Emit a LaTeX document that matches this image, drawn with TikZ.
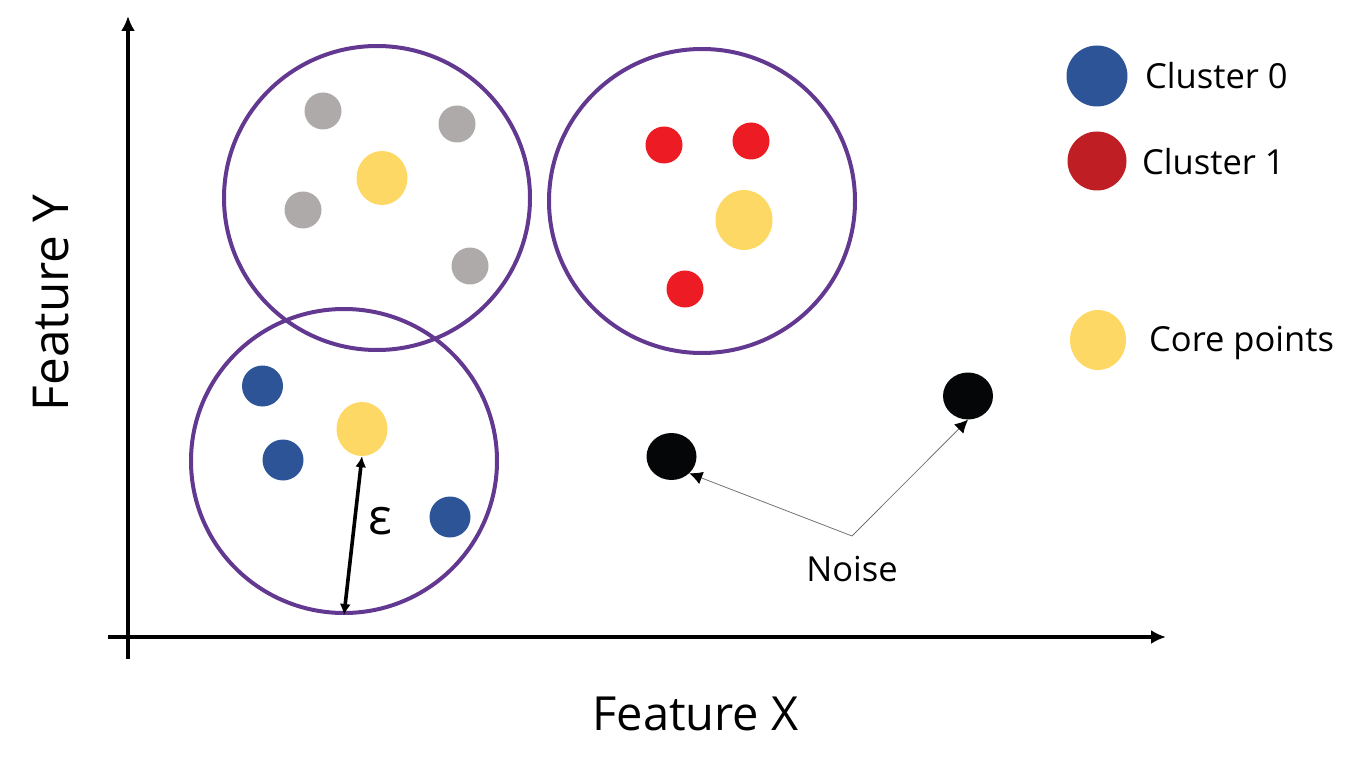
\documentclass[tikz,border=0pt]{standalone}
\usepackage{fontspec}
\setmainfont{Open Sans}
\usepackage{tikz}
\usetikzlibrary{positioning, calc}
\usetikzlibrary{arrows.meta}
\usetikzlibrary{shapes.geometric}
\definecolor{ringpurple}{RGB}{98,56,144}
\definecolor{coreyellow}{RGB}{253,216,100}
\definecolor{greydot}{RGB}{174,170,170}
\definecolor{bluedot}{RGB}{44,84,150}
\definecolor{reddot}{RGB}{237,28,36}
\definecolor{darkred}{RGB}{190,30,36}
\definecolor{blackdot}{RGB}{4,6,8}
\tikzstyle{ringbox}=[ellipse,line width=4pt,draw=ringpurple,inner sep=0pt,minimum width=306pt,minimum height=304pt]
\tikzstyle{dotbox}=[ellipse,inner sep=0pt,draw=none]
\tikzstyle{coredot}=[dotbox,fill=coreyellow,minimum width=51pt,minimum height=54pt]
\tikzstyle{greybox}=[dotbox,fill=greydot,minimum size=37pt]
\tikzstyle{redbox}=[dotbox,fill=reddot,minimum size=37pt]
\tikzstyle{bluebox}=[dotbox,fill=bluedot,minimum size=41pt]
\tikzstyle{noisebox}=[dotbox,fill=blackdot,minimum width=50pt,minimum height=47pt]
\tikzstyle{axisline}=[-{Latex[length=15pt,width=14pt]},line width=3.6pt]
\tikzstyle{thinarrow}=[-{Latex[length=13pt,width=13pt,color=black]},draw=black!55,line width=0.8pt]
\tikzstyle{radiusline}=[{Latex[length=11pt,width=11pt]}-{Latex[length=11pt,width=11pt]},line width=3.6pt]
\tikzstyle{legendtext}=[anchor=west,inner sep=0pt,font=\fontsize{34.5}{40}\selectfont]
\tikzstyle{axistext}=[inner sep=0pt,font=\fontsize{47}{56}\selectfont]
\begin{document}
\begin{tikzpicture}[x=1pt,y=-1pt]
    \useasboundingbox (0,0) rectangle (1358,778);
    % rings
    \node[ringbox] (r1) at (377,198) {};
    \node[ringbox] (r2) at (702,201) {};
    \node[ringbox] (r3) at (344,461) {};

    % axes
    \coordinate (ytop) at (128,16);
    \coordinate (ybot) at (128,659);
    \coordinate (xleft) at (108,637);
    \coordinate (xright) at (1166,637);
    \draw[axisline] (ybot) -- (ytop);
    \draw[axisline] (xleft) -- (xright);
    \node[axistext] (xlabel) at (695.5,714) {Feature X};
    \node[axistext,rotate=90,font=\fontsize{49.5}{56}\selectfont] (ylabel) at (51,303) {Feature Y};

    % points
    \node[greybox] (g1) at (323,111) {};
    \node[greybox] (g2) at (457,124) {};
    \node[greybox] (g3) at (303,210) {};
    \node[greybox] (g4) at (470,266) {};
    \node[coredot] (c1) at (382,178) {};

    \node[redbox] (a1) at (664,145) {};
    \node[redbox] (a2) at (751,141) {};
    \node[redbox] (a3) at (685,289) {};
    \node[coredot,minimum width=57pt,minimum height=60pt] (c2) at (744,220) {};

    \node[bluebox] (b1) at (262.5,386) {};
    \node[bluebox] (b2) at (283,460) {};
    \node[bluebox] (b3) at (450,517) {};
    \node[coredot] (c3) at (362,429) {};

    \node[noisebox] (n1) at (671.5,456.5) {};
    \node[noisebox] (n2) at (968,396) {};

    % radius
    \draw[radiusline] (r3.south) -- (c3.south);
    \node[inner sep=0pt,font=\fontsize{50}{56}\selectfont] (eps) at (380,521) {ε};

    % noise
    \node[inner sep=0pt,font=\fontsize{34.5}{40}\selectfont] (noise) at (852,569) {Noise};
    \coordinate (nfork) at (852,536);
    \draw[thinarrow] (nfork) -- (n1.south east);
    \draw[thinarrow] (nfork) -- (n2.south);

    % legend
    \node[dotbox,fill=bluedot,minimum size=61pt] (l0) at (1097,76) {};
    \node[dotbox,fill=darkred,minimum size=59pt] (l1) at (1097,161) {};
    \node[coredot,minimum width=56pt,minimum height=60pt] (l2) at (1098,340) {};
    \node[legendtext] (t0) at (1145,76) {Cluster 0};
    \node[legendtext] (t1) at (1142,162) {Cluster 1};
    \node[legendtext] (t2) at (1149,343) {Core points};
\end{tikzpicture}
\end{document}
